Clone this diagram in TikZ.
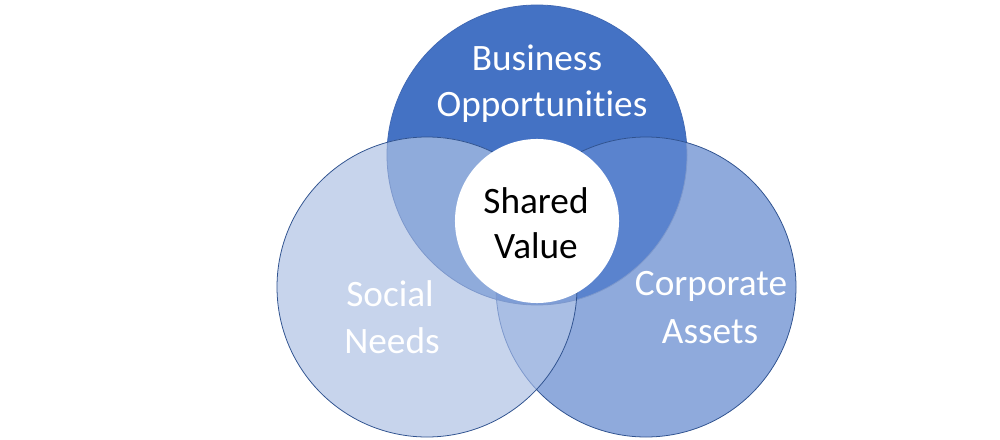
\documentclass[tikz,border=0pt]{standalone}
\usepackage{fontspec}
\setmainfont{Carlito}[Ligatures={NoCommon,NoDiscretionary,NoContextual}]
\definecolor{colT}{HTML}{4472C4}
\definecolor{colR}{HTML}{8FAADC}
\definecolor{colL}{HTML}{C7D4EC}
\definecolor{colTR}{HTML}{5A83CE}
\definecolor{colTL}{HTML}{8FABDB}
\definecolor{colLR}{HTML}{A9BEE4}
\definecolor{colTri}{HTML}{7E9DD6}
\definecolor{edgeD}{HTML}{2F528F}
\definecolor{edgeT}{HTML}{4169B4}
\definecolor{edgeSoft}{HTML}{7D98CC}
\begin{document}
\begin{tikzpicture}[x=0.025cm,y=-0.025cm,
  lbl/.style={font=\fontsize{26.5}{32}\selectfont, inner sep=0pt, anchor=base, text=white},
  dark/.style={text=black},
  rim/.style={line width=0.55pt}]
\useasboundingbox (0,0) rectangle (1000,440);
\fill[white] (0,0) rectangle (1000,440);
\def\rad{150}
\coordinate (cT) at (537,155);
\coordinate (cL) at (427,287);
\coordinate (cR) at (646,287);
% top and right circles
\fill[colT] (cT) circle (\rad);
\draw[rim, edgeT] (cT) circle (\rad);
\fill[colR] (cR) circle (\rad);
\begin{scope}
  \clip (cT) circle (\rad);
  \fill[colTR] (cR) circle (\rad);
\end{scope}
\begin{scope}
  \clip (cR) circle (\rad);
  \draw[rim, edgeSoft] (cT) circle (\rad);
\end{scope}
\draw[rim, edgeD] (cR) circle (\rad);
% left circle on top
\begin{scope}
  \clip (cL) circle (\rad);
  \fill[colL] (cL) circle (\rad);
  \fill[colTL] (cT) circle (\rad);
  \fill[colLR] (cR) circle (\rad);
  \begin{scope}
    \clip (cT) circle (\rad);
    \fill[colTri] (cR) circle (\rad);
  \end{scope}
  \draw[rim, edgeSoft] (cT) circle (\rad) (cR) circle (\rad);
\end{scope}
\draw[rim, edgeD] (cL) circle (\rad);
% centre
\node[circle, fill=white, inner sep=0pt, minimum size=4.1cm] (sv) at (537,221) {};
% labels
\node[lbl] (bus) at (537,71) {Business};
\node[lbl] (opp) at (542,117) {Opportunities};
\node[lbl, dark] (sh) at (536,213) {Shared};
\node[lbl, dark] (va) at (536,258) {Value};
\node[lbl] (so) at (390,306) {Social};
\node[lbl] (ne) at (392,353) {Needs};
\node[lbl] (co) at (711,295) {Corporate};
\node[lbl] (as) at (710,343) {Assets};
\end{tikzpicture}
\end{document}
